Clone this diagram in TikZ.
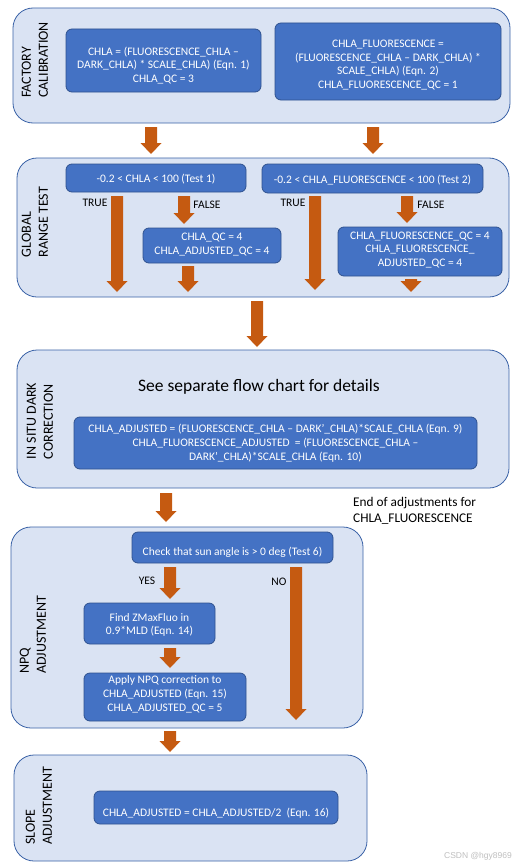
\documentclass[tikz,border=0pt]{standalone}
\usepackage{fontspec}
\setmainfont{Carlito}
\newfontfamily\wmfont{Liberation Sans}
\usetikzlibrary{calc}
\definecolor{secfill}{HTML}{DAE3F3}
\definecolor{secdraw}{HTML}{3A62A7}
\definecolor{boxfill}{HTML}{4472C4}
\definecolor{boxdraw}{HTML}{2F528F}
\definecolor{arr}{HTML}{C55A11}
\begin{document}
\begin{tikzpicture}[x=1pt,y=-1pt,
  sec/.style={draw=secdraw, fill=secfill, line width=0.8pt, rounded corners=20pt, inner sep=0pt},
  boxs/.style={draw=boxdraw, fill=boxfill, line width=0.8pt, rounded corners=6pt, inner sep=0pt},
  btext/.style={text=white, align=center, font=\fontsize{11.5}{13.8}\selectfont, inner sep=0pt},
  slabel/.style={rotate=90, align=left, font=\fontsize{14}{17}\selectfont, inner sep=0pt},
  plain/.style={font=\fontsize{11.5}{13}\selectfont, inner sep=0pt},
  barrow/.style={to path={let \p1=(\tikztostart), \p2=(\tikztotarget) in
      ({\x1-6pt},{\y1}) -- ({\x1+6pt},{\y1}) -- ({\x1+6pt},{\y2+11pt}) -- ({\x1+10.5pt},{\y2+11pt})
      -- ({\x2},{\y2}) -- ({\x1-10.5pt},{\y2+11pt}) -- ({\x1-6pt},{\y2+11pt}) -- cycle}},
]
\useasboundingbox (0,0) rectangle (516,867);
\fill[white] (0,0) rectangle (516,867);

% ---------- Section 1: factory calibration
\node[sec, minimum width=497pt, minimum height=115pt] (sec1) at (261.5,65.5) {};
\node[slabel] (lab1) at (35,60) {FACTORY\\CALIBRATION};
\node[boxs, minimum width=195pt, minimum height=63pt] (b1) at (163.5,60.5) {};
\node[btext] (b1t) at (163.5,65.5) {CHLA = (FLUORESCENCE\_CHLA –\\DARK\_CHLA) * SCALE\_CHLA) (Eqn. 1)\\CHLA\_QC = 3};
\node[boxs, minimum width=226pt, minimum height=77pt] (b2) at (388,61.5) {};
\node[btext] (b2t) at (388,65) {CHLA\_FLUORESCENCE =\\(FLUORESCENCE\_CHLA – DARK\_CHLA) *\\SCALE\_CHLA) (Eqn. 2)\\CHLA\_FLUORESCENCE\_QC = 1};

\coordinate (a1s) at (151,127); \coordinate (a1e) at (151,154);
\coordinate (a2s) at (373,127); \coordinate (a2e) at (373,154);
\fill[arr] (a1s) to[barrow] (a1e);
\fill[arr] (a2s) to[barrow] (a2e);

% ---------- Section 2: global range test
\node[sec, minimum width=492pt, minimum height=139pt] (sec2) at (263,227.5) {};
\node[slabel] (lab2) at (35,222) {GLOBAL\\RANGE TEST};
\node[boxs, minimum width=180pt, minimum height=28pt] (t1) at (156,178) {};
\node[btext] (t1t) at (156,179.5) {-0.2 < CHLA < 100 (Test 1)};
\node[boxs, minimum width=221pt, minimum height=29pt] (t2) at (372.5,178.5) {};
\node[btext] (t2t) at (372.5,180) {-0.2 < CHLA\_FLUORESCENCE < 100 (Test 2)};
\node[boxs, minimum width=138pt, minimum height=35pt] (q1) at (212,245.5) {};
\node[btext] (q1t) at (212,244.5) {CHLA\_QC = 4\\CHLA\_ADJUSTED\_QC = 4};
\node[boxs, minimum width=164pt, minimum height=49pt] (q2) at (420,251.5) {};
\node[btext] (q2t) at (420,250) {CHLA\_FLUORESCENCE\_QC = 4\\CHLA\_FLUORESCENCE\_\\ADJUSTED\_QC = 4};

\coordinate (tr1s) at (117,196); \coordinate (tr1e) at (117,292);
\coordinate (fa1s) at (184,196); \coordinate (fa1e) at (184,224);
\coordinate (q1s) at (188,266);  \coordinate (q1e) at (188,292);
\coordinate (tr2s) at (315,196); \coordinate (tr2e) at (315,290);
\coordinate (fa2s) at (407,196); \coordinate (fa2e) at (407,223);
\coordinate (q2s) at (411,279);  \coordinate (q2e) at (411,292);
\fill[arr] (tr1s) to[barrow] (tr1e);
\fill[arr] (fa1s) to[barrow] (fa1e);
\fill[arr] (q1s) to[barrow] (q1e);
\fill[arr] (tr2s) to[barrow] (tr2e);
\fill[arr] (fa2s) to[barrow] (fa2e);
\fill[arr] (q2s) to[barrow] (q2e);
\node[plain] (true1) at (95,203) {TRUE};
\node[plain] (false1) at (207,205) {FALSE};
\node[plain] (true2) at (293,203) {TRUE};
\node[plain] (false2) at (431,205) {FALSE};

\coordinate (m1s) at (257,301); \coordinate (m1e) at (257,347);
\fill[arr] (m1s) to[barrow] (m1e);

% ---------- Section 3: in situ dark correction
\node[sec, minimum width=492pt, minimum height=138pt] (sec3) at (263,419) {};
\node[slabel] (lab3) at (40,421) {IN SITU DARK\\CORRECTION};
\node[inner sep=0pt, font=\fontsize{17.5}{20}\selectfont] (see) at (259,387) {See separate flow chart for details};
\node[boxs, minimum width=403pt, minimum height=52pt] (d1) at (275.5,443) {};
\node[btext] (d1t) at (275.5,443.5) {CHLA\_ADJUSTED = (FLUORESCENCE\_CHLA – DARK’\_CHLA)*SCALE\_CHLA (Eqn. 9)\\CHLA\_FLUORESCENCE\_ADJUSTED\ \ = (FLUORESCENCE\_CHLA –\\DARK’\_CHLA)*SCALE\_CHLA (Eqn. 10)};

\coordinate (m2s) at (166,493); \coordinate (m2e) at (166,522);
\fill[arr] (m2s) to[barrow] (m2e);
\node[inner sep=0pt, anchor=west, align=left, font=\fontsize{13.3}{16}\selectfont] (endtxt) at (353,511) {End of adjustments for\\CHLA\_FLUORESCENCE};

% ---------- Section 4: NPQ adjustment
\node[sec, minimum width=352pt, minimum height=201pt] (sec4) at (187,627.5) {};
\node[slabel] (lab4) at (33,635) {NPQ\\ADJUSTMENT};
\node[boxs, minimum width=201pt, minimum height=31pt] (c1) at (232.5,547.5) {};
\node[btext] (c1t) at (232.5,552) {Check that sun angle is > 0 deg (Test 6)};
\node[boxs, minimum width=131pt, minimum height=41pt] (f1) at (149.5,623.5) {};
\node[btext] (f1t) at (149.5,625) {Find ZMaxFluo in\\0.9*MLD (Eqn. 14)};
\node[boxs, minimum width=162pt, minimum height=48pt] (n1) at (165,697) {};
\node[btext] (n1t) at (165,694.5) {Apply NPQ correction to\\CHLA\_ADJUSTED (Eqn. 15)\\CHLA\_ADJUSTED\_QC = 5};

\coordinate (ys) at (170,567); \coordinate (ye) at (170,599);
\coordinate (ns) at (296,567); \coordinate (ne) at (296,720);
\coordinate (fs) at (170,648); \coordinate (fe) at (170,668);
\fill[arr] (ys) to[barrow] (ye);
\fill[arr] (ns) to[barrow] (ne);
\fill[arr] (fs) to[barrow] (fe);
\node[plain] (yes) at (147,581) {YES};
\node[plain] (no) at (279,582) {NO};

\coordinate (m3s) at (170,731); \coordinate (m3e) at (170,752);
\fill[arr] (m3s) to[barrow] (m3e);

% ---------- Section 5: slope adjustment
\node[sec, minimum width=353pt, minimum height=106pt] (sec5) at (190.5,808) {};
\node[slabel] (lab5) at (39,806) {SLOPE\\ADJUSTMENT};
\node[boxs, minimum width=244pt, minimum height=33pt] (s1) at (216,807.5) {};
\node[btext] (s1t) at (216,813) {CHLA\_ADJUSTED = CHLA\_ADJUSTED/2\ \ (Eqn. 16)};

\node[inner sep=0pt, anchor=east, text=black!25, font=\wmfont\fontsize{8.5}{10}\selectfont] (wm) at (512,856) {CSDN @hgy8969};
\end{tikzpicture}
\end{document}
